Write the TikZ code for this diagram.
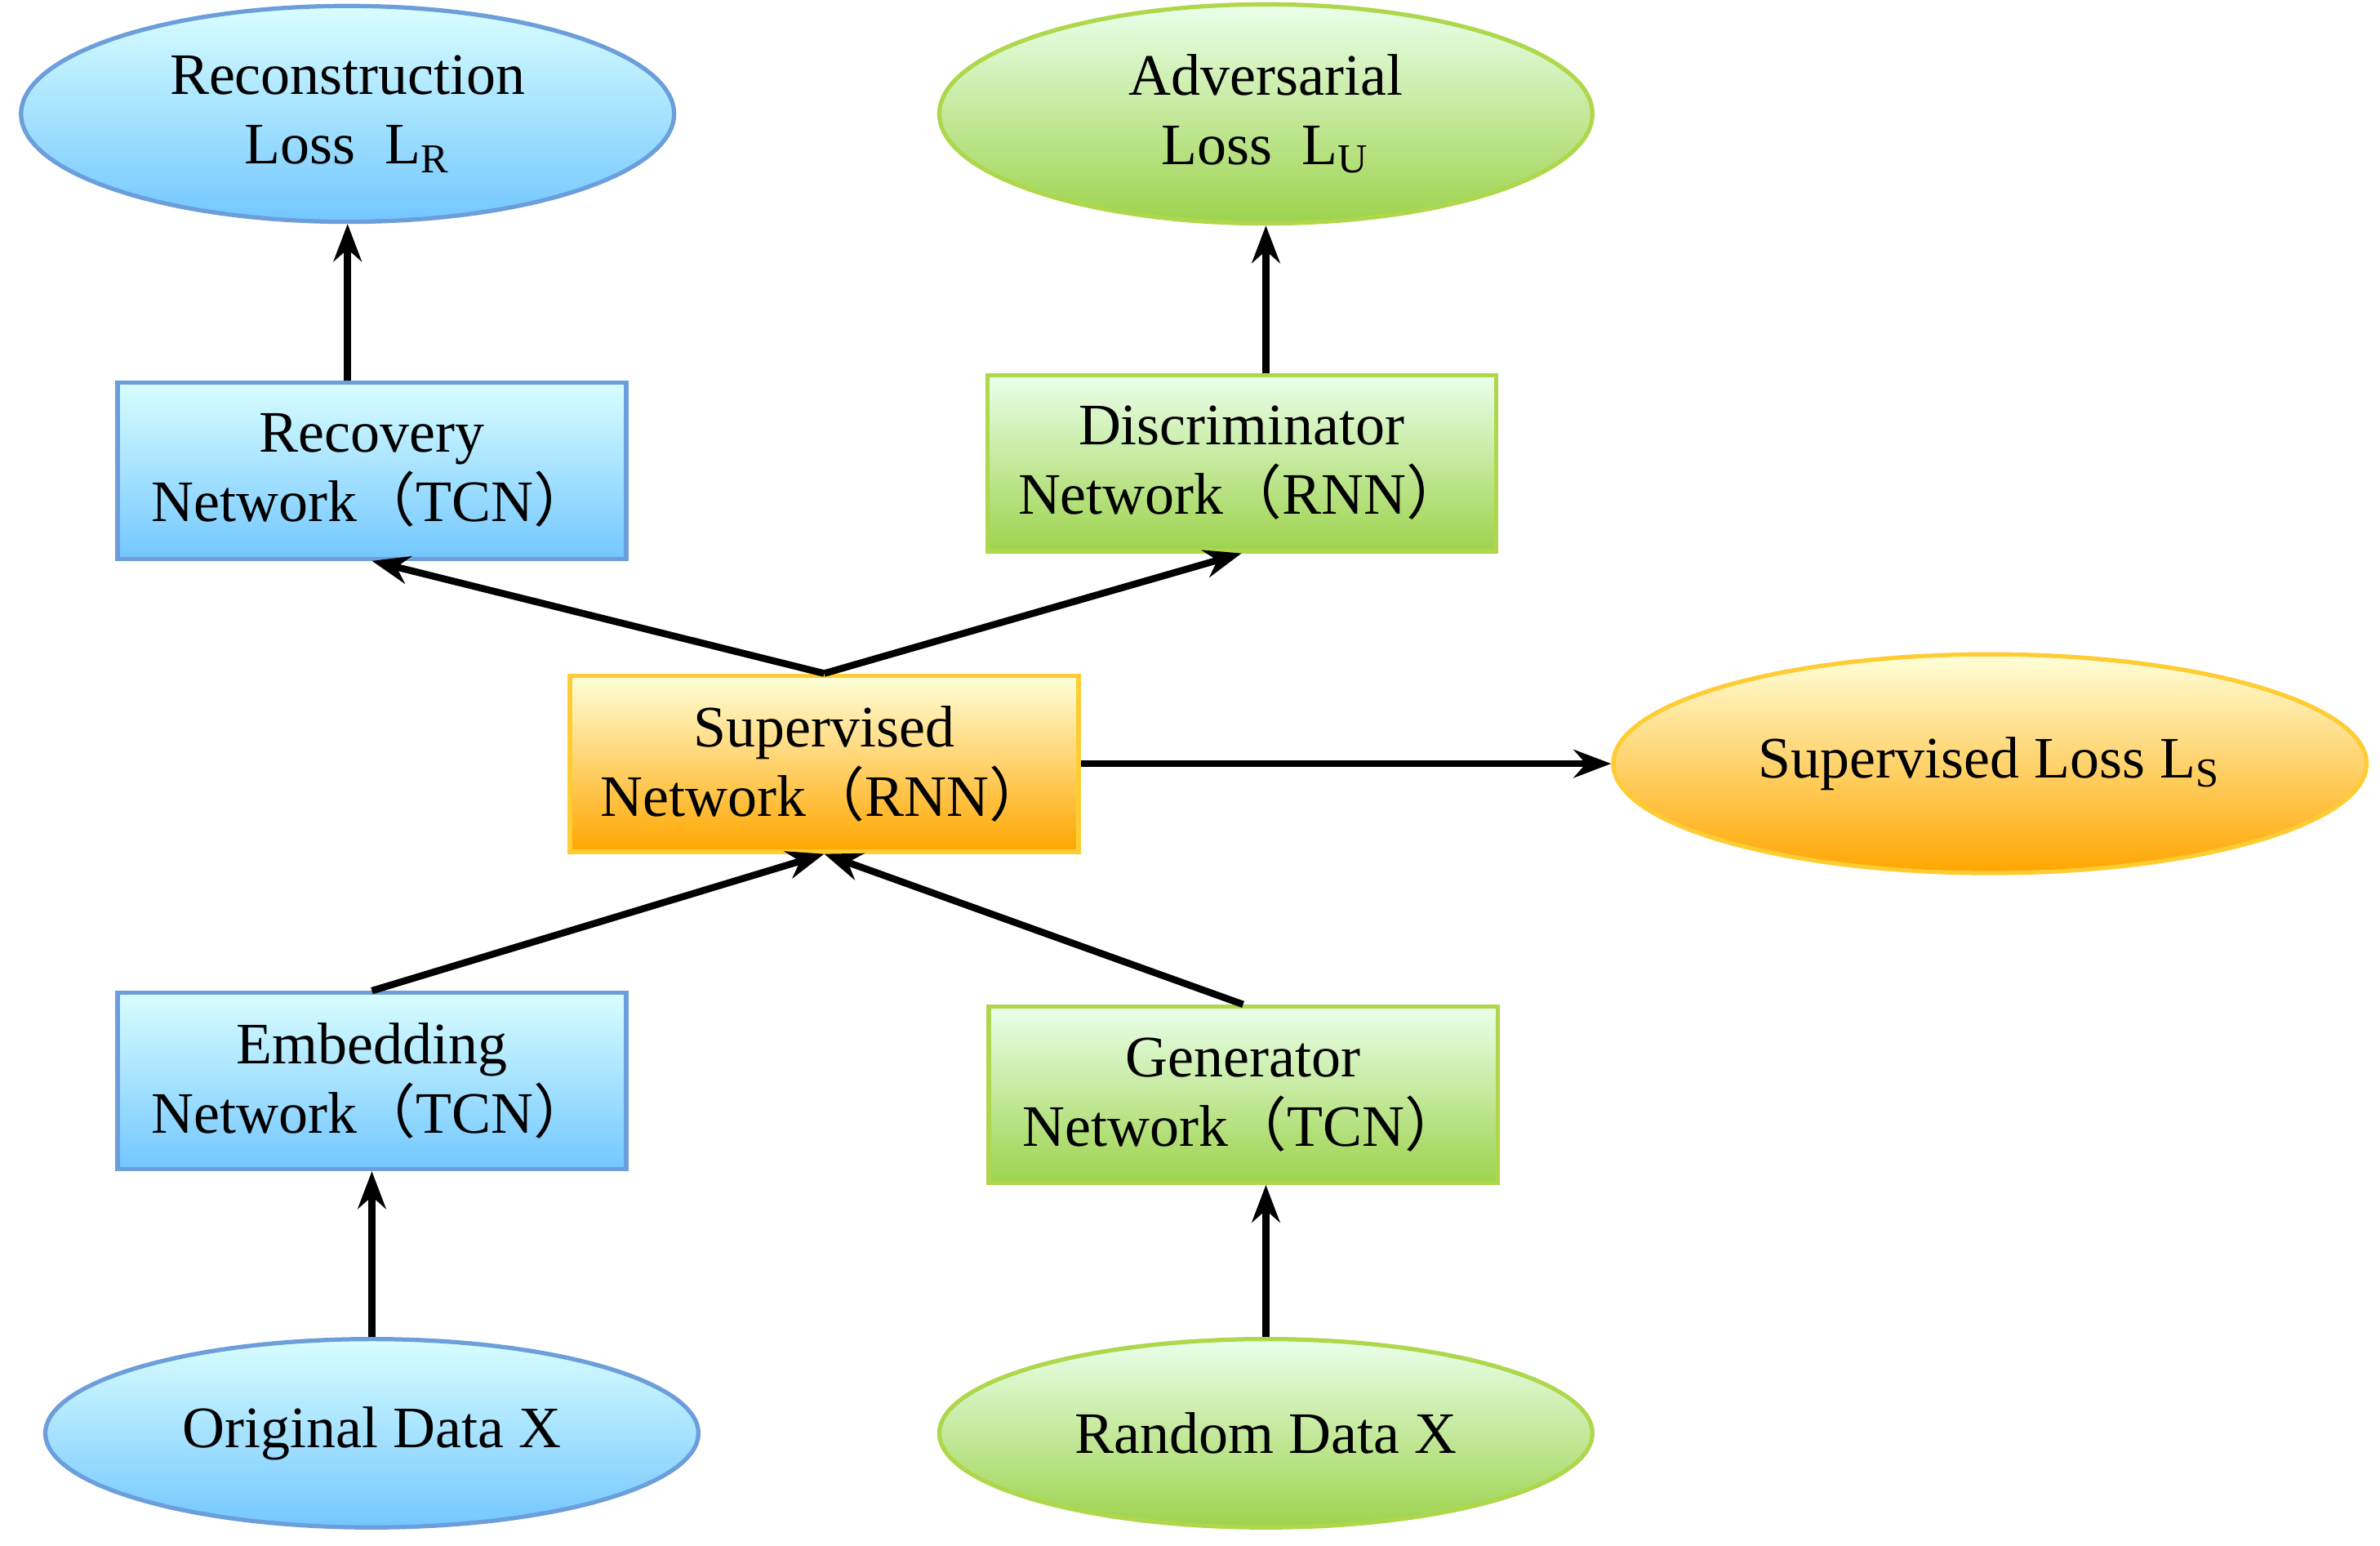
\documentclass[tikz,border=0pt]{standalone}
\usepackage{fontspec}
\setmainfont{Liberation Serif}
\newfontfamily\cjk{Noto Sans CJK SC}
\usetikzlibrary{shapes.geometric,arrows.meta}
\newcommand{\lp}{{\cjk （}}
\newcommand{\rp}{{\cjk ）}}
\tikzset{
  blu/.style={top color=blue!4!cyan!15, bottom color=cyan!60!blue!55, draw=cyan!55!blue!60, thick},
  grn/.style={top color=green!8!white, bottom color=green!55!black!55!yellow!70, draw=green!50!black!45!yellow!70, thick},
  org/.style={top color=yellow!15, bottom color=orange!70!yellow, draw=orange!50!yellow!80, thick},
  box/.style={rectangle, minimum width=3.35cm, minimum height=1.16cm, align=center},
  ell/.style={ellipse, minimum width=4.3cm, minimum height=1.24cm, align=center},
  arr/.style={-{Stealth[length=7pt]}, line width=1.3pt}
}
\begin{document}
\begin{tikzpicture}[x=0.01cm, y=-0.01cm, font=\fontsize{11}{13}\selectfont]
  \useasboundingbox (0,0) rectangle (1568,1018);
  \node[ell, blu] (recon) at (229,75) {Reconstruction\\Loss\ \ L$_\mathrm{R}$};
  \node[ell, grn] (adv) at (834,75) {Adversarial\\Loss\ \ L$_\mathrm{U}$};
  \node[box, blu] (recov) at (245,310) {Recovery\\Network\lp TCN\rp};
  \node[box, grn] (disc) at (818,305) {Discriminator\\Network\lp RNN\rp};
  \node[box, org] (sup) at (543,503) {Supervised\\Network\lp RNN\rp};
  \node[ell, org, minimum width=4.96cm, minimum height=1.44cm] (suploss) at (1311,503) {Supervised Loss L$_\mathrm{S}$};
  \node[box, blu] (emb) at (245,712) {Embedding\\Network\lp TCN\rp};
  \node[box, grn] (gen) at (819,721) {Generator\\Network\lp TCN\rp};
  \node[ell, blu] (orig) at (245,944) {Original Data X};
  \node[ell, grn] (rand) at (834,944) {Random Data X};
  \draw[arr] (recov.north -| recon.south) -- (recon.south);
  \draw[arr] (disc.north -| adv.south) -- (adv.south);
  \draw[arr] (sup.north) -- (recov.south);
  \draw[arr] (sup.north) -- (disc.south);
  \draw[arr] (sup.east) -- (suploss.west);
  \draw[arr] (emb.north) -- (sup.south);
  \draw[arr] (gen.north) -- (sup.south);
  \draw[arr] (orig.north) -- (emb.south);
  \draw[arr] (rand.north) -- (rand.north |- gen.south);
\end{tikzpicture}
\end{document}
